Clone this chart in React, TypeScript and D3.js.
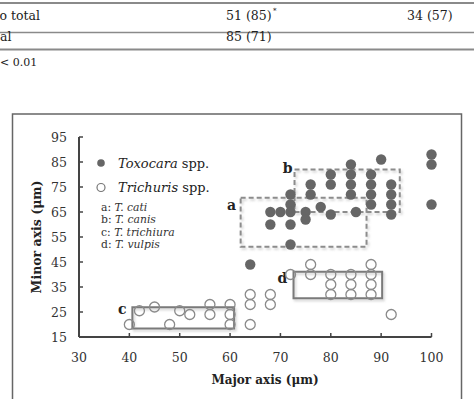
import React from "react";
import * as d3 from "d3";

// ---- data ----
const toxocaraMajor = [68, 68, 70, 72, 72, 72, 72, 72, 75, 75, 76, 76, 78, 80, 80, 80, 84, 84, 84, 84, 85, 88, 88, 88, 88, 90, 92, 92, 92, 92, 100, 100, 100, 64];
const toxocaraMinor = [65, 60, 65, 72, 68, 65, 60, 52, 65, 62, 76, 72, 67, 80, 76, 64, 84, 80, 76, 72, 65, 80, 76, 72, 68, 86, 76, 72, 68, 64, 88, 84, 68, 44];

const trichurisMajor = [40, 42, 45, 48, 50, 52, 56, 56, 60, 60, 60, 64, 64, 64, 68, 68, 72, 76, 76, 80, 80, 80, 84, 84, 84, 88, 88, 88, 88, 92];
const trichurisMinor = [20, 25.5, 27, 20, 25.5, 24, 28, 24, 28, 24, 20, 32, 28, 20, 32, 28, 40, 44, 40, 40, 36, 32, 40, 36, 32, 44, 40, 36, 32, 24];

const boxLabels = ["a", "b", "c", "d"];
const boxMajorMin = [62.1, 72.8, 40.6, 72.6];
const boxMajorMax = [87.1, 93.7, 60.8, 90.2];
const boxMinorMin = [51.1, 65, 18.4, 30.5];
const boxMinorMax = [70.7, 82, 26.9, 41.1];
const boxDashed = [true, true, false, false];

const speciesNames = ["T. cati", "T. canis", "T. trichiura", "T. vulpis"];

const xTicks = [30, 40, 50, 60, 70, 80, 90, 100];
const yTicks = [15, 25, 35, 45, 55, 65, 75, 85, 95];

const tableRow1 = ["o total", "51 (85)", "34 (57)"];
const tableRow2 = ["al", "85 (71)"];
const footnote = "< 0.01";

// ---- layout ----
const W = 474;
const H = 399;
const serif = "'DejaVu Serif', 'Liberation Serif', serif";

export default function App() {
  const x = d3.scaleLinear().domain([30, 100]).range([79, 431.5]);
  const y = d3.scaleLinear().domain([15, 95]).range([337, 137]);

  const labelDy = [12, 3, 7, 11];
  const labelDx = [-9, -7, -10, -11];

  return (
    <svg
      width={W}
      height={H}
      viewBox={`0 0 ${W} ${H}`}
      style={{ position: "absolute", left: 0, top: 0, background: "#fff" }}
    >
      <defs>
        <filter id="shadow" x="-10%" y="-10%" width="130%" height="140%">
          <feDropShadow dx="1.5" dy="2" stdDeviation="1.2" floodColor="#999" floodOpacity="0.45" />
        </filter>
        <filter id="soft" x="-20%" y="-20%" width="140%" height="140%">
          <feGaussianBlur stdDeviation="0.35" />
        </filter>
      </defs>

      {/* table fragment */}
      <line x1={0} x2={W} y1={3} y2={3} stroke="#8a8a8a" strokeWidth={2} />
      <line x1={0} x2={W} y1={32.5} y2={32.5} stroke="#8a8a8a" strokeWidth={1.5} />
      <line x1={0} x2={W} y1={49.5} y2={49.5} stroke="#8a8a8a" strokeWidth={2} />
      <g fontFamily={serif} fontSize={12.5} fill="#222">
        <text x={-0.5} y={19.5}>{tableRow1[0]}</text>
        <text x={226} y={19.5}>{tableRow1[1]}</text>
        <text x={273} y={13} fontSize={7}>*</text>
        <text x={407} y={19.5}>{tableRow1[2]}</text>
        <text x={0} y={41}>{tableRow2[0]}</text>
        <text x={226} y={41}>{tableRow2[1]}</text>
        <text x={0} y={66} fontSize={11}>{footnote}</text>
      </g>

      {/* outer frame */}
      <rect x={12.5} y={114} width={449} height={300} fill="none" stroke="#666" strokeWidth={1.5} />

      {/* boxes */}
      {boxLabels.map((lab, i) => {
        const x0 = x(boxMajorMin[i]);
        const x1 = x(boxMajorMax[i]);
        const y0 = y(boxMinorMax[i]);
        const y1 = y(boxMinorMin[i]);
        return (
          <g key={lab}>
            <rect
              x={x0}
              y={y0}
              width={x1 - x0}
              height={y1 - y0}
              fill="none"
              stroke={boxDashed[i] ? "#8c8c8c" : "#7a7a7a"}
              strokeWidth={2}
              strokeDasharray={boxDashed[i] ? "5,3" : undefined}
              filter="url(#shadow)"
            />
            <text
              x={x0 + labelDx[i]}
              y={y0 + labelDy[i]}
              textAnchor="middle"
              fontFamily={serif}
              fontWeight="bold"
              fontSize={14}
              fill="#222"
            >
              {lab}
            </text>
          </g>
        );
      })}

      {/* points */}
      <g filter="url(#soft)">
        {trichurisMajor.map((v, i) => (
          <circle key={"t" + i} cx={x(v)} cy={y(trichurisMinor[i])} r={5} fill="none" stroke="#8a8a8a" strokeWidth={1.3} />
        ))}
        {toxocaraMajor.map((v, i) => (
          <circle key={"x" + i} cx={x(v)} cy={y(toxocaraMinor[i])} r={5.2} fill="#666" />
        ))}
      </g>

      {/* axes */}
      <g stroke="#444" strokeWidth={2}>
        <line x1={x(30)} x2={x(100)} y1={y(15)} y2={y(15)} />
        <line x1={x(30)} x2={x(30)} y1={y(15)} y2={y(95)} />
        {xTicks.slice(1).map((t) => (
          <line key={"xt" + t} x1={x(t)} x2={x(t)} y1={y(15)} y2={y(15) - 4} strokeWidth={1.5} />
        ))}
        {yTicks.slice(1).map((t) => (
          <line key={"yt" + t} x1={x(30)} x2={x(30) + 4} y1={y(t)} y2={y(t)} strokeWidth={1.5} />
        ))}
      </g>
      <g fontFamily={serif} fontSize={12.5} fill="#333">
        {xTicks.map((t) => (
          <text key={"xl" + t} x={x(t)} y={362} textAnchor="middle">{t}</text>
        ))}
        {yTicks.map((t) => (
          <text key={"yl" + t} x={67} y={y(t) + 4.5} textAnchor="end">{t}</text>
        ))}
      </g>

      {/* axis titles */}
      <text x={265} y={384} textAnchor="middle" fontFamily={serif} fontWeight="bold" fontSize={12} fill="#222">
        Major axis (μm)
      </text>
      <text
        transform={`translate(41, 237) rotate(-90)`}
        textAnchor="middle"
        fontFamily={serif}
        fontWeight="bold"
        fontSize={12.5}
        fill="#222"
      >
        Minor axis (μm)
      </text>

      {/* legend */}
      <circle cx={101} cy={163} r={3.8} fill="#666" />
      <circle cx={101} cy={187.5} r={4} fill="none" stroke="#777" strokeWidth={1.2} />
      <g fontFamily={serif} fontSize={13} fill="#222">
        <text x={118} y={167.5}>
          <tspan fontStyle="italic">Toxocara</tspan> spp.
        </text>
        <text x={118} y={192}>
          <tspan fontStyle="italic">Trichuris</tspan> spp.
        </text>
      </g>
      <g fontFamily={serif} fontSize={10.8} fill="#333">
        {speciesNames.map((s, i) => (
          <text key={s} x={101} y={211 + i * 12.4}>
            {boxLabels[i]}: <tspan fontStyle="italic">{s}</tspan>
          </text>
        ))}
      </g>
    </svg>
  );
}
